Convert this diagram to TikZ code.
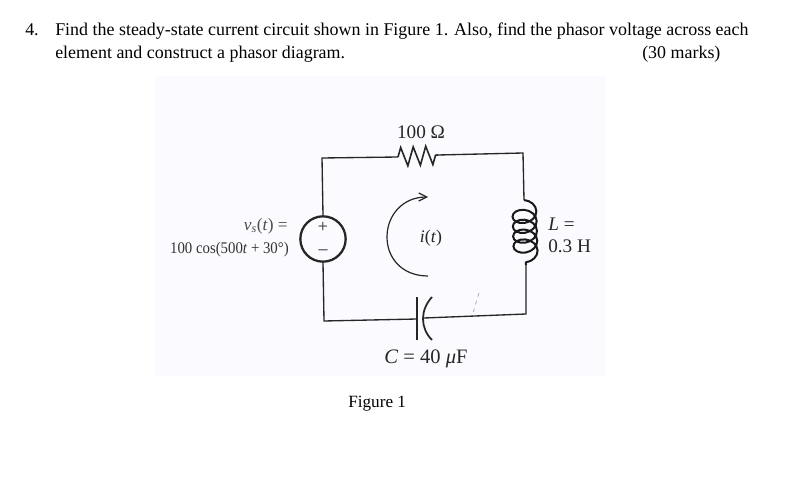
\documentclass[tikz,border=0pt]{standalone}
\usepackage{fontspec}
\setmainfont{Liberation Serif}
\usetikzlibrary{decorations.pathmorphing,arrows.meta}
\tikzset{
  wire/.style={line width=1pt,black!85},
  body/.style={font=\fontsize{13.45}{15}\selectfont,inner sep=0pt,anchor=base west},
  partlabel/.style={font=\fontsize{14.4}{15}\selectfont,inner sep=0pt,black!85}
}
\begin{document}
\begin{tikzpicture}[x=0.75pt,y=-0.75pt]
\useasboundingbox (0,0) rectangle (806,502);
\fill[blue!2!white] (155,76) rectangle (606,376);
\node[body] (num) at (25,36) {4.};
\node[body] (lineone) at (55,36) {Find the steady-state current circuit shown in Figure 1. Also, find the phasor voltage across each};
\node[body] (linetwo) at (55,59) {element and construct a phasor diagram.};
\node[body] (marks) at (642,59) {(30 marks)};
\node[body,font=\fontsize{12.9}{15}\selectfont] (figname) at (348,407) {Figure 1};
% corners of the loop
\coordinate (tl) at (322,158);
\coordinate (tr) at (523,153);
\coordinate (bl) at (324,321);
\coordinate (br) at (526,314);
\coordinate (resl) at (398,157);
\coordinate (resr) at (438,155);
\coordinate (indt) at (524,200);
\coordinate (indb) at (526,265);
\coordinate (capl) at (417,319);
\coordinate (capr) at (424,318);
\node[
      draw,
      circle,
      line width=1.7pt,
      black!85,
      minimum size=34pt,
      inner sep=0pt
] (src) at (323,239) {};
\node[partlabel,font=\fontsize{13.5}{14}\selectfont] (plus) at (323,227) {+};
\node[partlabel,font=\fontsize{13.5}{14}\selectfont] (minus) at (323,252) {\textendash};
\draw[wire] (src.north) -- (tl) -- (resl);
\draw[wire] (resr) -- (tr) -- (indt);
\draw[wire] (indb) -- (br) -- (capr);
\draw[wire] (capl) -- (bl) -- (src.south);
% resistor
\draw[line width=1.2pt,black!85,decorate,decoration={zigzag,segment length=9.4pt,amplitude=7pt}] (resl) -- (resr);
% inductor
\draw[line width=1.5pt,black!90,decorate,decoration={coil,segment length=7.4pt,amplitude=9pt,aspect=0.75}] (indt) -- (indb);
% capacitor
\coordinate (plate1) at (417,297);
\coordinate (plate2) at (417,340);
\coordinate (plate3) at (432,297);
\coordinate (plate4) at (432,340);
\draw[line width=1.3pt,black!85] (plate1) -- (plate2);
\draw[line width=1.3pt,black!85] (plate3) .. controls (420,310) and (420,328) .. (plate4);
% current arrow
\coordinate (arcs) at (428,276);
\coordinate (arce) at (428,197);
\draw[line width=0.9pt,black!85,-{Straight Barb[length=6pt,width=6pt]}] (arcs) .. controls (402,276) and (387,258) .. (387,237) .. controls (387,215) and (403,197) .. (arce);
\coordinate (scrt) at (479,293);
\coordinate (scrb) at (473,313);
\draw[black!35,line width=0.5pt,dashed] (scrt) -- (scrb);
\node[partlabel] (rlabel) at (421,132) {100 Ω};
\node[partlabel,font=\fontsize{13.3}{15}\selectfont] (ilabel) at (431,238) {\textit{i}(\textit{t})};
\node[partlabel,anchor=west] (lone) at (548,224) {\textit{L} =};
\node[partlabel,anchor=west] (ltwo) at (548,246) {0.3 H};
\node[partlabel,font=\fontsize{15.4}{15}\selectfont] (clabel) at (426,359) {\textit{C} = 40 \textit{μ}F};
\node[partlabel,font=\fontsize{13}{15}\selectfont,anchor=east,black!70] (vone) at (288,226) {\textit{v\textsubscript{s}}(\textit{t}) =};
\node[partlabel,font=\fontsize{12.2}{15}\selectfont,anchor=east,black!80] (vtwo) at (289,250) {\scalebox{0.91}[1]{100 cos(500\textit{t} + 30°)}};
\end{tikzpicture}
\end{document}
